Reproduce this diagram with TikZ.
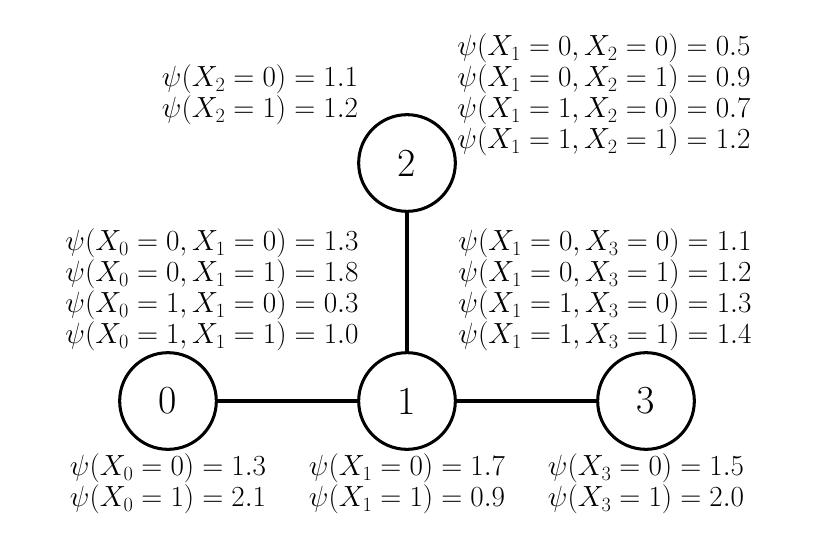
\documentclass[tikz,border=0pt]{standalone}
\begin{document}
\begin{tikzpicture}[x=0.03cm,y=-0.03cm,
  vert/.style={circle,draw,line width=2.6pt,minimum size=2.9cm,inner sep=0pt,font=\fontsize{34}{34}\selectfont},
  lbl/.style={align=left,font=\fontsize{24}{26.5}\selectfont,inner sep=0pt},
  edge/.style={line width=2.6pt}]
\useasboundingbox (0,0) rectangle (813,552);
\node[vert] (n0) at (168,401) {0};
\node[vert] (n1) at (407,401) {1};
\node[vert] (n3) at (646,401) {3};
\node[vert] (n2) at (407,163) {2};
\draw[edge] (n0) -- (n1);
\draw[edge] (n1) -- (n3);
\draw[edge] (n1) -- (n2);
\node[lbl] (t2) at (260,95) {$\psi(X_2=0)=1.1$\\$\psi(X_2=1)=1.2$};
\node[lbl] (t12) at (604,95) {$\psi(X_1=0,X_2=0)=0.5$\\$\psi(X_1=0,X_2=1)=0.9$\\$\psi(X_1=1,X_2=0)=0.7$\\$\psi(X_1=1,X_2=1)=1.2$};
\node[lbl] (t01) at (212,290) {$\psi(X_0=0,X_1=0)=1.3$\\$\psi(X_0=0,X_1=1)=1.8$\\$\psi(X_0=1,X_1=0)=0.3$\\$\psi(X_0=1,X_1=1)=1.0$};
\node[lbl] (t13) at (605,290) {$\psi(X_1=0,X_3=0)=1.1$\\$\psi(X_1=0,X_3=1)=1.2$\\$\psi(X_1=1,X_3=0)=1.3$\\$\psi(X_1=1,X_3=1)=1.4$};
\node[lbl] (t0) at (168,484) {$\psi(X_0=0)=1.3$\\$\psi(X_0=1)=2.1$};
\node[lbl] (t1) at (407,484) {$\psi(X_1=0)=1.7$\\$\psi(X_1=1)=0.9$};
\node[lbl] (t3) at (646,484) {$\psi(X_3=0)=1.5$\\$\psi(X_3=1)=2.0$};
\end{tikzpicture}
\end{document}
